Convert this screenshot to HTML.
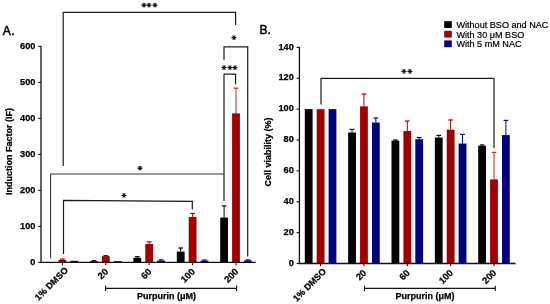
<!DOCTYPE html>
<html><head><meta charset="utf-8"><title>Purpurin figure</title>
<style>html,body{margin:0;padding:0;background:#fff;width:550px;height:304px;overflow:hidden}svg{display:block}</style>
</head><body>
<svg width="550" height="304" viewBox="0 0 550 304" font-family="Liberation Sans, Arial, sans-serif">
<rect width="550" height="304" fill="#fff"/>
<line x1="62.40" y1="259.16" x2="62.40" y2="259.88" stroke="#a00000" stroke-width="1.0"/>
<line x1="60.10" y1="259.16" x2="64.70" y2="259.16" stroke="#a00000" stroke-width="1.2"/>
<rect x="58.50" y="259.88" width="7.80" height="2.52" fill="#a00000"/>
<rect x="70.40" y="260.78" width="7.80" height="1.62" fill="#000080"/>
<line x1="93.90" y1="260.78" x2="93.90" y2="261.14" stroke="#000000" stroke-width="1.0"/>
<line x1="91.60" y1="260.78" x2="96.20" y2="260.78" stroke="#000000" stroke-width="1.2"/>
<rect x="90.00" y="261.14" width="7.80" height="1.26" fill="#000000"/>
<line x1="105.80" y1="255.56" x2="105.80" y2="256.10" stroke="#a00000" stroke-width="1.0"/>
<line x1="103.50" y1="255.56" x2="108.10" y2="255.56" stroke="#a00000" stroke-width="1.2"/>
<rect x="101.90" y="256.10" width="7.80" height="6.30" fill="#a00000"/>
<rect x="113.80" y="261.14" width="7.80" height="1.26" fill="#000080"/>
<line x1="137.30" y1="256.64" x2="137.30" y2="257.72" stroke="#000000" stroke-width="1.0"/>
<line x1="135.00" y1="256.64" x2="139.60" y2="256.64" stroke="#000000" stroke-width="1.2"/>
<rect x="133.40" y="257.72" width="7.80" height="4.68" fill="#000000"/>
<line x1="149.20" y1="241.88" x2="149.20" y2="244.04" stroke="#a00000" stroke-width="1.0"/>
<line x1="146.90" y1="241.88" x2="151.50" y2="241.88" stroke="#a00000" stroke-width="1.2"/>
<rect x="145.30" y="244.04" width="7.80" height="18.36" fill="#a00000"/>
<line x1="161.10" y1="259.88" x2="161.10" y2="260.60" stroke="#000080" stroke-width="1.0"/>
<line x1="158.80" y1="259.88" x2="163.40" y2="259.88" stroke="#000080" stroke-width="1.2"/>
<rect x="157.20" y="260.60" width="7.80" height="1.80" fill="#000080"/>
<line x1="180.70" y1="248.00" x2="180.70" y2="251.60" stroke="#000000" stroke-width="1.0"/>
<line x1="178.40" y1="248.00" x2="183.00" y2="248.00" stroke="#000000" stroke-width="1.2"/>
<rect x="176.80" y="251.60" width="7.80" height="10.80" fill="#000000"/>
<line x1="192.60" y1="213.44" x2="192.60" y2="217.04" stroke="#a00000" stroke-width="1.0"/>
<line x1="190.30" y1="213.44" x2="194.90" y2="213.44" stroke="#a00000" stroke-width="1.2"/>
<rect x="188.70" y="217.04" width="7.80" height="45.36" fill="#a00000"/>
<line x1="204.50" y1="260.06" x2="204.50" y2="260.60" stroke="#000080" stroke-width="1.0"/>
<line x1="202.20" y1="260.06" x2="206.80" y2="260.06" stroke="#000080" stroke-width="1.2"/>
<rect x="200.60" y="260.60" width="7.80" height="1.80" fill="#000080"/>
<line x1="224.10" y1="205.88" x2="224.10" y2="217.58" stroke="#000000" stroke-width="1.0"/>
<line x1="221.80" y1="205.88" x2="226.40" y2="205.88" stroke="#000000" stroke-width="1.2"/>
<rect x="220.20" y="217.58" width="7.80" height="44.82" fill="#000000"/>
<line x1="236.00" y1="88.16" x2="236.00" y2="113.36" stroke="#c02020" stroke-width="1.0"/>
<line x1="233.70" y1="88.16" x2="238.30" y2="88.16" stroke="#c02020" stroke-width="1.2"/>
<rect x="232.10" y="113.36" width="7.80" height="149.04" fill="#a00000"/>
<line x1="247.90" y1="259.88" x2="247.90" y2="260.42" stroke="#000080" stroke-width="1.0"/>
<line x1="245.60" y1="259.88" x2="250.20" y2="259.88" stroke="#000080" stroke-width="1.2"/>
<rect x="244.00" y="260.42" width="7.80" height="1.98" fill="#000080"/>
<line x1="41.00" y1="45.80" x2="41.00" y2="263.00" stroke="#111" stroke-width="1.3"/>
<line x1="41.00" y1="262.40" x2="255.80" y2="262.40" stroke="#111" stroke-width="1.3"/>
<line x1="38.20" y1="262.40" x2="41.00" y2="262.40" stroke="#111" stroke-width="1.1"/>
<text x="35.40" y="264.50" font-size="9.2" font-weight="bold" text-anchor="end" fill="#000" stroke="#000" stroke-width="0.25">0</text>
<line x1="38.20" y1="226.40" x2="41.00" y2="226.40" stroke="#111" stroke-width="1.1"/>
<text x="35.40" y="228.50" font-size="9.2" font-weight="bold" text-anchor="end" fill="#000" stroke="#000" stroke-width="0.25">100</text>
<line x1="38.20" y1="190.40" x2="41.00" y2="190.40" stroke="#111" stroke-width="1.1"/>
<text x="35.40" y="192.50" font-size="9.2" font-weight="bold" text-anchor="end" fill="#000" stroke="#000" stroke-width="0.25">200</text>
<line x1="38.20" y1="154.40" x2="41.00" y2="154.40" stroke="#111" stroke-width="1.1"/>
<text x="35.40" y="156.50" font-size="9.2" font-weight="bold" text-anchor="end" fill="#000" stroke="#000" stroke-width="0.25">300</text>
<line x1="38.20" y1="118.40" x2="41.00" y2="118.40" stroke="#111" stroke-width="1.1"/>
<text x="35.40" y="120.50" font-size="9.2" font-weight="bold" text-anchor="end" fill="#000" stroke="#000" stroke-width="0.25">400</text>
<line x1="38.20" y1="82.40" x2="41.00" y2="82.40" stroke="#111" stroke-width="1.1"/>
<text x="35.40" y="84.50" font-size="9.2" font-weight="bold" text-anchor="end" fill="#000" stroke="#000" stroke-width="0.25">500</text>
<line x1="38.20" y1="46.40" x2="41.00" y2="46.40" stroke="#111" stroke-width="1.1"/>
<text x="35.40" y="48.50" font-size="9.2" font-weight="bold" text-anchor="end" fill="#000" stroke="#000" stroke-width="0.25">600</text>
<line x1="62.40" y1="262.40" x2="62.40" y2="265.20" stroke="#111" stroke-width="1.1"/>
<text x="68.60" y="270.90" font-size="9.0" font-weight="bold" text-anchor="end" transform="rotate(-45 68.60 270.90)" fill="#000" stroke="#000" stroke-width="0.25">1% DMSO</text>
<line x1="105.80" y1="262.40" x2="105.80" y2="265.20" stroke="#111" stroke-width="1.1"/>
<text x="108.80" y="272.40" font-size="9.3" font-weight="bold" text-anchor="end" transform="rotate(-45 108.80 272.40)" fill="#000" stroke="#000" stroke-width="0.25">20</text>
<line x1="149.20" y1="262.40" x2="149.20" y2="265.20" stroke="#111" stroke-width="1.1"/>
<text x="152.20" y="272.40" font-size="9.3" font-weight="bold" text-anchor="end" transform="rotate(-45 152.20 272.40)" fill="#000" stroke="#000" stroke-width="0.25">60</text>
<line x1="192.60" y1="262.40" x2="192.60" y2="265.20" stroke="#111" stroke-width="1.1"/>
<text x="195.60" y="272.40" font-size="9.3" font-weight="bold" text-anchor="end" transform="rotate(-45 195.60 272.40)" fill="#000" stroke="#000" stroke-width="0.25">100</text>
<line x1="236.00" y1="262.40" x2="236.00" y2="265.20" stroke="#111" stroke-width="1.1"/>
<text x="239.00" y="272.40" font-size="9.3" font-weight="bold" text-anchor="end" transform="rotate(-45 239.00 272.40)" fill="#000" stroke="#000" stroke-width="0.25">200</text>
<text x="12.20" y="151.50" font-size="9" font-weight="bold" text-anchor="middle" transform="rotate(-90 12.20 151.50)" fill="#000" stroke="#000" stroke-width="0.25">Induction Factor (IF)</text>
<line x1="105.60" y1="288.30" x2="236.60" y2="288.30" stroke="#111" stroke-width="1.35"/>
<line x1="105.60" y1="285.60" x2="105.60" y2="291.00" stroke="#111" stroke-width="1.1"/>
<line x1="236.60" y1="285.60" x2="236.60" y2="291.00" stroke="#111" stroke-width="1.1"/>
<rect x="304.80" y="109.14" width="7.80" height="154.36" fill="#000000"/>
<rect x="316.70" y="109.14" width="7.80" height="154.36" fill="#a00000"/>
<rect x="328.60" y="109.14" width="7.80" height="154.36" fill="#000080"/>
<line x1="352.05" y1="129.36" x2="352.05" y2="132.45" stroke="#000000" stroke-width="1.0"/>
<line x1="349.75" y1="129.36" x2="354.35" y2="129.36" stroke="#000000" stroke-width="1.2"/>
<rect x="348.15" y="132.45" width="7.80" height="131.05" fill="#000000"/>
<line x1="363.95" y1="94.02" x2="363.95" y2="106.36" stroke="#a00000" stroke-width="1.0"/>
<line x1="361.65" y1="94.02" x2="366.25" y2="94.02" stroke="#a00000" stroke-width="1.2"/>
<rect x="360.05" y="106.36" width="7.80" height="157.14" fill="#a00000"/>
<line x1="375.85" y1="117.94" x2="375.85" y2="122.57" stroke="#000080" stroke-width="1.0"/>
<line x1="373.55" y1="117.94" x2="378.15" y2="117.94" stroke="#000080" stroke-width="1.2"/>
<rect x="371.95" y="122.57" width="7.80" height="140.93" fill="#000080"/>
<line x1="395.40" y1="140.01" x2="395.40" y2="140.63" stroke="#000000" stroke-width="1.0"/>
<line x1="393.10" y1="140.01" x2="397.70" y2="140.01" stroke="#000000" stroke-width="1.2"/>
<rect x="391.50" y="140.63" width="7.80" height="122.87" fill="#000000"/>
<line x1="407.30" y1="121.03" x2="407.30" y2="131.06" stroke="#a00000" stroke-width="1.0"/>
<line x1="405.00" y1="121.03" x2="409.60" y2="121.03" stroke="#a00000" stroke-width="1.2"/>
<rect x="403.40" y="131.06" width="7.80" height="132.44" fill="#a00000"/>
<line x1="419.20" y1="137.54" x2="419.20" y2="139.24" stroke="#000080" stroke-width="1.0"/>
<line x1="416.90" y1="137.54" x2="421.50" y2="137.54" stroke="#000080" stroke-width="1.2"/>
<rect x="415.30" y="139.24" width="7.80" height="124.26" fill="#000080"/>
<line x1="438.75" y1="135.38" x2="438.75" y2="137.54" stroke="#000000" stroke-width="1.0"/>
<line x1="436.45" y1="135.38" x2="441.05" y2="135.38" stroke="#000000" stroke-width="1.2"/>
<rect x="434.85" y="137.54" width="7.80" height="125.96" fill="#000000"/>
<line x1="450.65" y1="119.95" x2="450.65" y2="129.67" stroke="#a00000" stroke-width="1.0"/>
<line x1="448.35" y1="119.95" x2="452.95" y2="119.95" stroke="#a00000" stroke-width="1.2"/>
<rect x="446.75" y="129.67" width="7.80" height="133.83" fill="#a00000"/>
<line x1="462.55" y1="134.46" x2="462.55" y2="143.56" stroke="#000080" stroke-width="1.0"/>
<line x1="460.25" y1="134.46" x2="464.85" y2="134.46" stroke="#000080" stroke-width="1.2"/>
<rect x="458.65" y="143.56" width="7.80" height="119.94" fill="#000080"/>
<line x1="482.10" y1="144.95" x2="482.10" y2="145.73" stroke="#000000" stroke-width="1.0"/>
<line x1="479.80" y1="144.95" x2="484.40" y2="144.95" stroke="#000000" stroke-width="1.2"/>
<rect x="478.20" y="145.73" width="7.80" height="117.77" fill="#000000"/>
<line x1="494.00" y1="152.36" x2="494.00" y2="179.38" stroke="#c02020" stroke-width="1.0"/>
<line x1="491.70" y1="152.36" x2="496.30" y2="152.36" stroke="#c02020" stroke-width="1.2"/>
<rect x="490.10" y="179.38" width="7.80" height="84.12" fill="#a00000"/>
<line x1="505.90" y1="120.41" x2="505.90" y2="135.07" stroke="#000080" stroke-width="1.0"/>
<line x1="503.60" y1="120.41" x2="508.20" y2="120.41" stroke="#000080" stroke-width="1.2"/>
<rect x="502.00" y="135.07" width="7.80" height="128.43" fill="#000080"/>
<line x1="299.40" y1="46.80" x2="299.40" y2="264.10" stroke="#111" stroke-width="1.3"/>
<line x1="299.40" y1="263.50" x2="515.60" y2="263.50" stroke="#111" stroke-width="1.3"/>
<line x1="296.60" y1="263.50" x2="299.40" y2="263.50" stroke="#111" stroke-width="1.1"/>
<text x="293.80" y="265.60" font-size="9.2" font-weight="bold" text-anchor="end" fill="#000" stroke="#000" stroke-width="0.25">0</text>
<line x1="296.60" y1="232.63" x2="299.40" y2="232.63" stroke="#111" stroke-width="1.1"/>
<text x="293.80" y="234.73" font-size="9.2" font-weight="bold" text-anchor="end" fill="#000" stroke="#000" stroke-width="0.25">20</text>
<line x1="296.60" y1="201.76" x2="299.40" y2="201.76" stroke="#111" stroke-width="1.1"/>
<text x="293.80" y="203.86" font-size="9.2" font-weight="bold" text-anchor="end" fill="#000" stroke="#000" stroke-width="0.25">40</text>
<line x1="296.60" y1="170.89" x2="299.40" y2="170.89" stroke="#111" stroke-width="1.1"/>
<text x="293.80" y="172.99" font-size="9.2" font-weight="bold" text-anchor="end" fill="#000" stroke="#000" stroke-width="0.25">60</text>
<line x1="296.60" y1="140.01" x2="299.40" y2="140.01" stroke="#111" stroke-width="1.1"/>
<text x="293.80" y="142.11" font-size="9.2" font-weight="bold" text-anchor="end" fill="#000" stroke="#000" stroke-width="0.25">80</text>
<line x1="296.60" y1="109.14" x2="299.40" y2="109.14" stroke="#111" stroke-width="1.1"/>
<text x="293.80" y="111.24" font-size="9.2" font-weight="bold" text-anchor="end" fill="#000" stroke="#000" stroke-width="0.25">100</text>
<line x1="296.60" y1="78.27" x2="299.40" y2="78.27" stroke="#111" stroke-width="1.1"/>
<text x="293.80" y="80.37" font-size="9.2" font-weight="bold" text-anchor="end" fill="#000" stroke="#000" stroke-width="0.25">120</text>
<line x1="296.60" y1="47.40" x2="299.40" y2="47.40" stroke="#111" stroke-width="1.1"/>
<text x="293.80" y="49.50" font-size="9.2" font-weight="bold" text-anchor="end" fill="#000" stroke="#000" stroke-width="0.25">140</text>
<line x1="320.60" y1="263.50" x2="320.60" y2="266.30" stroke="#111" stroke-width="1.1"/>
<text x="326.80" y="272.00" font-size="9.0" font-weight="bold" text-anchor="end" transform="rotate(-45 326.80 272.00)" fill="#000" stroke="#000" stroke-width="0.25">1% DMSO</text>
<line x1="363.95" y1="263.50" x2="363.95" y2="266.30" stroke="#111" stroke-width="1.1"/>
<text x="366.95" y="273.50" font-size="9.3" font-weight="bold" text-anchor="end" transform="rotate(-45 366.95 273.50)" fill="#000" stroke="#000" stroke-width="0.25">20</text>
<line x1="407.30" y1="263.50" x2="407.30" y2="266.30" stroke="#111" stroke-width="1.1"/>
<text x="410.30" y="273.50" font-size="9.3" font-weight="bold" text-anchor="end" transform="rotate(-45 410.30 273.50)" fill="#000" stroke="#000" stroke-width="0.25">60</text>
<line x1="450.65" y1="263.50" x2="450.65" y2="266.30" stroke="#111" stroke-width="1.1"/>
<text x="453.65" y="273.50" font-size="9.3" font-weight="bold" text-anchor="end" transform="rotate(-45 453.65 273.50)" fill="#000" stroke="#000" stroke-width="0.25">100</text>
<line x1="494.00" y1="263.50" x2="494.00" y2="266.30" stroke="#111" stroke-width="1.1"/>
<text x="497.00" y="273.50" font-size="9.3" font-weight="bold" text-anchor="end" transform="rotate(-45 497.00 273.50)" fill="#000" stroke="#000" stroke-width="0.25">200</text>
<text x="270.60" y="152.00" font-size="9" font-weight="bold" text-anchor="middle" transform="rotate(-90 270.60 152.00)" fill="#000" stroke="#000" stroke-width="0.25">Cell viability (%)</text>
<line x1="364.50" y1="288.40" x2="495.30" y2="288.40" stroke="#111" stroke-width="1.35"/>
<line x1="364.50" y1="285.70" x2="364.50" y2="291.10" stroke="#111" stroke-width="1.1"/>
<line x1="495.30" y1="285.70" x2="495.30" y2="291.10" stroke="#111" stroke-width="1.1"/>
<text x="166.50" y="299.20" font-size="9" font-weight="bold" text-anchor="middle" fill="#000" stroke="#000" stroke-width="0.25">Purpurin (&#956;M)</text>
<text x="425.00" y="299.20" font-size="9" font-weight="bold" text-anchor="middle" fill="#000" stroke="#000" stroke-width="0.25">Purpurin (&#956;M)</text>
<text x="2.8" y="34.9" font-size="12" font-weight="normal" letter-spacing="0.5" fill="#000" stroke="#000" stroke-width="0.5">A.</text>
<text x="259.60" y="33.80" font-size="12" font-weight="normal" text-anchor="start" fill="#000" stroke="#000" stroke-width="0.5">B.</text>
<polyline points="63.20,166.00 63.20,12.40 235.60,12.40 235.60,25.00" fill="none" stroke="#1a1a1a" stroke-width="1.2"/>
<text x="0" y="0" transform="translate(139.36 5.20) rotate(90)" font-size="10.4" font-family="WenQuanYi Zen Hei" text-anchor="middle" fill="#111" stroke="#111" stroke-width="0.45">*</text>
<text x="0" y="0" transform="translate(144.46 5.20) rotate(90)" font-size="10.4" font-family="WenQuanYi Zen Hei" text-anchor="middle" fill="#111" stroke="#111" stroke-width="0.45">*</text>
<text x="0" y="0" transform="translate(149.56 5.20) rotate(90)" font-size="10.4" font-family="WenQuanYi Zen Hei" text-anchor="middle" fill="#111" stroke="#111" stroke-width="0.45">*</text>
<polyline points="50.60,258.50 50.60,174.00 224.00,174.00" fill="none" stroke="#333" stroke-width="1.05"/>
<text x="0" y="0" transform="translate(135.06 168.00) rotate(90)" font-size="10.4" font-family="WenQuanYi Zen Hei" text-anchor="middle" fill="#111" stroke="#111" stroke-width="0.45">*</text>
<polyline points="63.50,254.00 63.50,200.40 192.30,201.30 192.30,209.60" fill="none" stroke="#1a1a1a" stroke-width="1.2"/>
<text x="0" y="0" transform="translate(119.46 195.30) rotate(90)" font-size="10.4" font-family="WenQuanYi Zen Hei" text-anchor="middle" fill="#111" stroke="#111" stroke-width="0.45">*</text>
<line x1="224.00" y1="74.10" x2="224.00" y2="201.00" stroke="#1a1a1a" stroke-width="1.2"/>
<polyline points="224.00,74.10 235.60,74.10 235.60,84.40" fill="none" stroke="#1a1a1a" stroke-width="1.2"/>
<text x="0" y="0" transform="translate(219.46 67.70) rotate(90)" font-size="10.4" font-family="WenQuanYi Zen Hei" text-anchor="middle" fill="#111" stroke="#111" stroke-width="0.45">*</text>
<text x="0" y="0" transform="translate(224.56 67.70) rotate(90)" font-size="10.4" font-family="WenQuanYi Zen Hei" text-anchor="middle" fill="#111" stroke="#111" stroke-width="0.45">*</text>
<text x="0" y="0" transform="translate(229.66 67.70) rotate(90)" font-size="10.4" font-family="WenQuanYi Zen Hei" text-anchor="middle" fill="#111" stroke="#111" stroke-width="0.45">*</text>
<polyline points="224.00,59.70 224.00,46.90 247.70,46.90 247.70,256.50" fill="none" stroke="#1a1a1a" stroke-width="1.2"/>
<text x="0" y="0" transform="translate(229.46 37.60) rotate(90)" font-size="10.4" font-family="WenQuanYi Zen Hei" text-anchor="middle" fill="#111" stroke="#111" stroke-width="0.45">*</text>
<polyline points="321.00,104.40 321.00,78.40 494.00,78.40 494.00,148.00" fill="none" stroke="#1a1a1a" stroke-width="1.2"/>
<text x="0" y="0" transform="translate(399.41 71.40) rotate(90)" font-size="10.4" font-family="WenQuanYi Zen Hei" text-anchor="middle" fill="#111" stroke="#111" stroke-width="0.45">*</text>
<text x="0" y="0" transform="translate(404.51 71.40) rotate(90)" font-size="10.4" font-family="WenQuanYi Zen Hei" text-anchor="middle" fill="#111" stroke="#111" stroke-width="0.45">*</text>
<rect x="444.20" y="21.20" width="7.60" height="6.80" fill="#000000"/>
<text x="456.40" y="28.00" font-size="9.1" font-weight="normal" text-anchor="start" fill="#000" stroke="#000" stroke-width="0.2">Without BSO and NAC</text>
<rect x="444.20" y="30.80" width="7.60" height="6.80" fill="#a00000"/>
<text x="456.40" y="37.60" font-size="9.1" font-weight="normal" text-anchor="start" fill="#000" stroke="#000" stroke-width="0.2">With 30 &#956;M BSO</text>
<rect x="444.20" y="40.40" width="7.60" height="6.80" fill="#000080"/>
<text x="456.40" y="47.20" font-size="9.1" font-weight="normal" text-anchor="start" fill="#000" stroke="#000" stroke-width="0.2">With 5 mM NAC</text>
</svg>
</body></html>
